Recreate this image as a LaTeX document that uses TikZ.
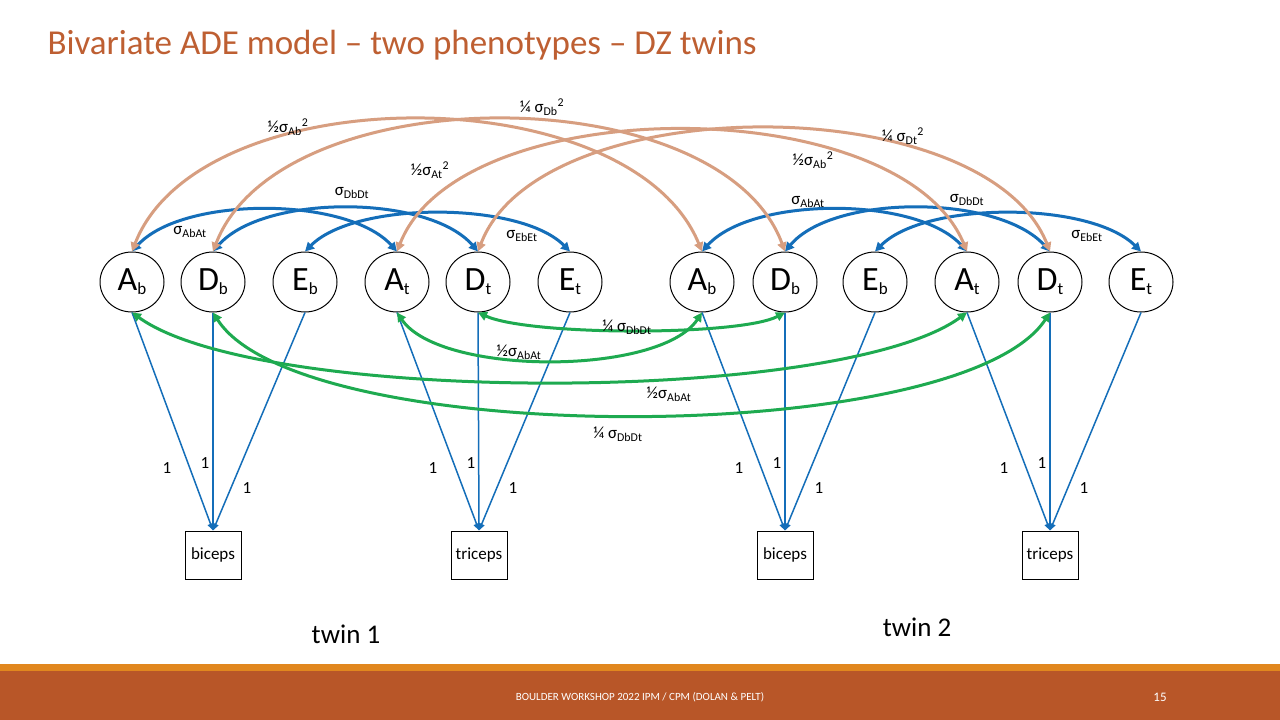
\documentclass[tikz,border=0pt]{standalone}
\usepackage{fontspec}
\setmainfont{Carlito}
\usetikzlibrary{arrows.meta,shapes.geometric}
\definecolor{cblue}{RGB}{20,110,185}
\definecolor{corange}{RGB}{215,158,128}
\definecolor{cgreen}{RGB}{30,170,80}
\definecolor{ctitle}{RGB}{190,95,50}
\definecolor{cbar}{RGB}{184,86,40}
\definecolor{cline}{RGB}{225,135,30}
\newcommand{\sbx}[1]{{\fontsize{17}{17}\selectfont\raisebox{-4pt}{#1}}}
\begin{document}
\begin{tikzpicture}[x=1pt,y=-1pt,
  lat/.style={draw,line width=1pt,ellipse,minimum width=64pt,minimum height=60pt,inner sep=0pt,font=\fontsize{34}{34}\selectfont},
  obs/.style={draw,line width=1pt,minimum width=56pt,minimum height=48pt,inner sep=0pt,font=\fontsize{17}{17}\selectfont},
  lab/.style={font=\fontsize{17}{17}\selectfont},
  ld/.style={cblue,line width=1.5pt,-{Triangle[length=7pt,width=6pt]}},
  bl/.style={cblue,line width=3pt,{Triangle[length=9pt,width=9pt]}-{Triangle[length=9pt,width=9pt]}},
  og/.style={corange,line width=3pt,{Triangle[length=9pt,width=9pt]}-{Triangle[length=9pt,width=9pt]}},
  gr/.style={cgreen,line width=3pt,{Triangle[length=9pt,width=9pt]}-{Triangle[length=9pt,width=9pt]}}]
\useasboundingbox (0,0) rectangle (1280,720);
\fill[white] (0,0) rectangle (1280,720);
\fill[cline] (0,664) rectangle (1280,671);
\fill[cbar] (0,671) rectangle (1280,720);
\node[white,font=\fontsize{11}{11}\selectfont] (foot) at (640,697) {BOULDER WORKSHOP 2022 IPM / CPM (DOLAN \& PELT)};
\node[white,font=\fontsize{13}{13}\selectfont] (pg) at (1160,697) {15};
\node[ctitle,anchor=west,font=\fontsize{35}{35}\selectfont] (title) at (44,45) {Bivariate ADE model – two phenotypes – DZ twins};
% latent nodes
\foreach \n/\x/\t in {Ab1/132/A\sbx{b},Db1/213/D\sbx{b},Eb1/305/E\sbx{b},At1/397/A\sbx{t},Dt1/478/D\sbx{t},Et1/570/E\sbx{t},
  Ab2/702/A\sbx{b},Db2/785/D\sbx{b},Eb2/875/E\sbx{b},At2/967/A\sbx{t},Dt2/1050/D\sbx{t},Et2/1141/E\sbx{t}}
  \node[lat] (\n) at (\x,282) {\t};
\node[obs] (bi1) at (213,555) {biceps};
\node[obs] (tr1) at (479,555) {triceps};
\node[obs] (bi2) at (785,555) {biceps};
\node[obs] (tr2) at (1050,555) {triceps};
% loadings
\foreach \a/\b/\c/\o in {Ab1/Db1/Eb1/bi1,At1/Dt1/Et1/tr1,Ab2/Db2/Eb2/bi2,At2/Dt2/Et2/tr2}{
  \draw[ld] (\a.south) -- (\o.north);
  \draw[ld] (\b.south) -- (\o.north);
  \draw[ld] (\c.south) -- (\o.north);
}
\foreach \x in {0,266,572,837}{
  \node[lab] at (167+\x,468) {1};
  \node[lab] at (205+\x,463) {1};
  \node[lab] at (247+\x,488) {1};
}
% blue within-twin arcs
\foreach \s/\o in {1/0,2/570}{
  \draw[bl] (Ab\s.north) .. controls (182+\o,196) and (347+\o,196) .. (At\s.north);
  \draw[bl] (Db\s.north) .. controls (263+\o,194) and (428+\o,194) .. (Dt\s.north);
  \draw[bl] (Eb\s.north) .. controls (355+\o,201) and (520+\o,201) .. (Et\s.north);
}
% orange cross-twin arcs
\draw[og] (Ab1.north) .. controls (200,76) and (630,76) .. (Ab2.north);
\draw[og] (Db1.north) .. controls (280,76) and (720,76) .. (Db2.north);
\draw[og] (At1.north) .. controls (460,90) and (900,90) .. (At2.north);
\draw[og] (Dt1.north) .. controls (540,88) and (985,88) .. (Dt2.north);
% green cross-twin arcs
\draw[gr] (Dt1.south) .. controls (530,336) and (740,336) .. (Db2.south);
\draw[gr] (At1.south) .. controls (440,376) and (660,376) .. (Ab2.south);
\draw[gr] (Ab1.south) .. controls (260,405) and (840,405) .. (At2.south);
\draw[gr] (Db1.south) .. controls (300,449) and (960,449) .. (Dt2.south);
% labels
\node[lab] at (190,232) {σ\textsubscript{AbAt}};
\node[lab] at (352,193) {σ\textsubscript{DbDt}};
\node[lab] at (522,236) {σ\textsubscript{EbEt}};
\node[lab] at (808,202) {σ\textsubscript{AbAt}};
\node[lab] at (967,200) {σ\textsubscript{DbDt}};
\node[lab] at (1087,236) {σ\textsubscript{EbEt}};
\node[lab] at (288,127) {½σ\textsubscript{Ab}\textsuperscript{2}};
\node[lab] at (542,107) {¼ σ\textsubscript{Db}\textsuperscript{2}};
\node[lab] at (430,170) {½σ\textsubscript{At}\textsuperscript{2}};
\node[lab] at (813,160) {½σ\textsubscript{Ab}\textsuperscript{2}};
\node[lab] at (903,136) {¼ σ\textsubscript{Dt}\textsuperscript{2}};
\node[lab] at (627,327) {¼ σ\textsubscript{DbDt}};
\node[lab] at (519,352) {½σ\textsubscript{AbAt}};
\node[lab] at (669,394) {½σ\textsubscript{AbAt}};
\node[lab] at (618,434) {¼ σ\textsubscript{DbDt}};
\node[font=\fontsize{27}{27}\selectfont] (tw1) at (346,634) {twin 1};
\node[font=\fontsize{27}{27}\selectfont] (tw2) at (917,627) {twin 2};
\end{tikzpicture}
\end{document}
